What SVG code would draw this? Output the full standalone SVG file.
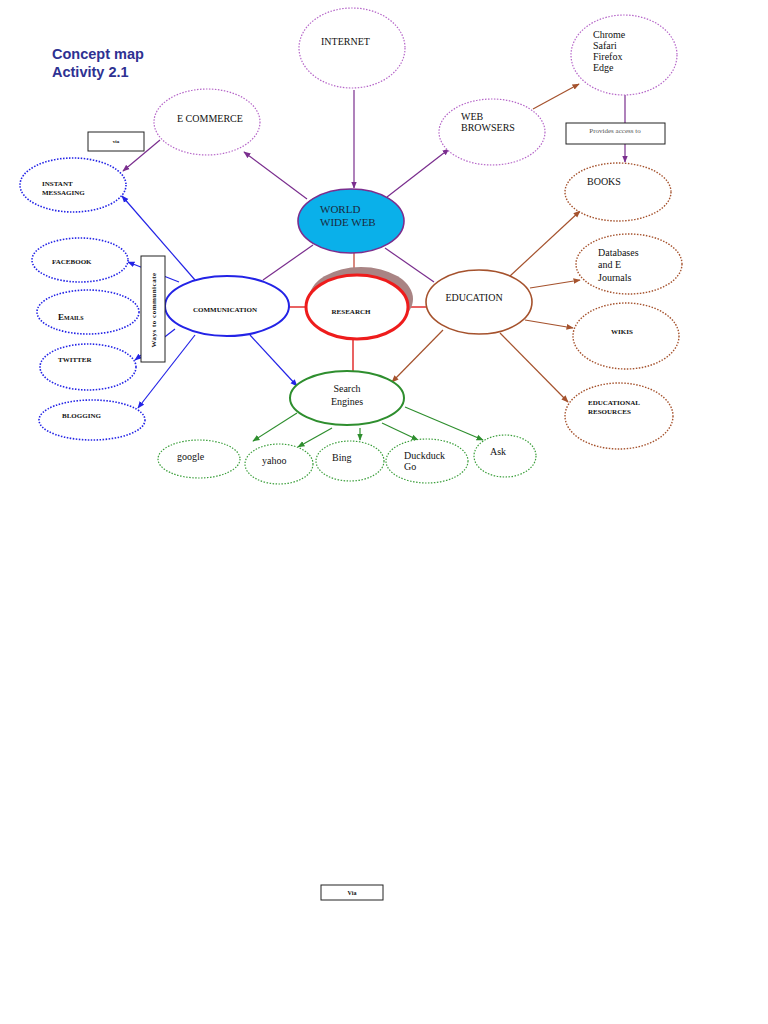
<svg xmlns="http://www.w3.org/2000/svg" width="768" height="1024" viewBox="0 0 768 1024">
<style>
text{font-family:"Liberation Serif","Times New Roman",serif;fill:#111}
.t{font-size:10px}
.s{font-size:7px;font-weight:bold}
.title{font-family:"Liberation Sans",Arial,sans-serif;font-weight:bold;font-size:14.5px;fill:#2e3192}
.pd{fill:#fff;stroke:#b565c8;stroke-width:1.2;stroke-dasharray:1.5 1.5}
.bd{fill:#fff;stroke:#a5522d;stroke-width:1.4;stroke-dasharray:1.5 1.5}
.ud{fill:#fff;stroke:#2323e6;stroke-width:1.6;stroke-dasharray:1.5 1.5}
.gd{fill:#fff;stroke:#3a9e3a;stroke-width:1.2;stroke-dasharray:1.5 1.5}
.box{fill:#fff;stroke:#222;stroke-width:1}
.lp{stroke:#7a2e8e;stroke-width:1.2;fill:none}
.lb{stroke:#a5522d;stroke-width:1.2;fill:none}
.lu{stroke:#2323e6;stroke-width:1.2;fill:none}
.lg{stroke:#2e8e2e;stroke-width:1.2;fill:none}
.lr{stroke:#e02020;stroke-width:1.4;fill:none}
</style>
<defs>
<marker id="ap" viewBox="0 0 10 10" refX="9" refY="5" markerWidth="6" markerHeight="6" orient="auto"><path d="M0,1 L10,5 L0,9 z" fill="#7a2e8e"/></marker>
<marker id="ab" viewBox="0 0 10 10" refX="9" refY="5" markerWidth="6" markerHeight="6" orient="auto"><path d="M0,1 L10,5 L0,9 z" fill="#a5522d"/></marker>
<marker id="au" viewBox="0 0 10 10" refX="9" refY="5" markerWidth="6" markerHeight="6" orient="auto"><path d="M0,1 L10,5 L0,9 z" fill="#2323e6"/></marker>
<marker id="ag" viewBox="0 0 10 10" refX="9" refY="5" markerWidth="6" markerHeight="6" orient="auto"><path d="M0,1 L10,5 L0,9 z" fill="#2e8e2e"/></marker>
</defs>

<g id="title">
<text class="title" x="52" y="59">Concept map</text>
<text class="title" x="52" y="77">Activity 2.1</text>
</g>

<g id="connectors">
<line class="lp" x1="354" y1="90" x2="354" y2="188" marker-end="url(#ap)"/>
<line class="lp" x1="307" y1="199" x2="244" y2="152" marker-end="url(#ap)"/>
<line class="lp" x1="387" y1="197" x2="449" y2="149" marker-end="url(#ap)"/>
<line class="lb" x1="533" y1="109" x2="579" y2="84" marker-end="url(#ab)"/>
<line class="lp" x1="625" y1="95" x2="625" y2="123"/>
<line class="lp" x1="625" y1="144" x2="625" y2="162" marker-end="url(#ap)"/>
<line class="lp" x1="160" y1="140" x2="123" y2="171" marker-end="url(#ap)"/>
<line class="lp" x1="313" y1="245" x2="263" y2="280"/>
<line class="lp" x1="385" y1="248" x2="434" y2="282"/>
<line x1="354" y1="253" x2="354" y2="276" stroke="#c0392b" stroke-width="1.2"/>
<line class="lr" x1="289" y1="307" x2="305" y2="307"/>
<line class="lr" x1="409" y1="307" x2="426" y2="307"/>
<line class="lr" x1="353" y1="339" x2="353" y2="371"/>
<line class="lu" x1="195" y1="280" x2="122" y2="196" marker-end="url(#au)"/>
<line class="lu" x1="179" y1="282" x2="128" y2="262" marker-end="url(#au)"/>
<line class="lu" x1="175" y1="329" x2="135" y2="360" marker-end="url(#au)"/>
<line class="lu" x1="195" y1="335" x2="138" y2="408" marker-end="url(#au)"/>
<line class="lu" x1="250" y1="335" x2="297" y2="386" marker-end="url(#au)"/>
<line class="lb" x1="443" y1="330" x2="392" y2="382" marker-end="url(#ab)"/>
<line class="lb" x1="510" y1="276" x2="580" y2="211" marker-end="url(#ab)"/>
<line class="lb" x1="530" y1="288" x2="580" y2="280" marker-end="url(#ab)"/>
<line class="lb" x1="525" y1="320" x2="573" y2="328" marker-end="url(#ab)"/>
<line class="lb" x1="500" y1="333" x2="568" y2="402" marker-end="url(#ab)"/>
<line class="lg" x1="297" y1="413" x2="253" y2="441" marker-end="url(#ag)"/>
<line class="lg" x1="332" y1="428" x2="298" y2="447" marker-end="url(#ag)"/>
<line class="lg" x1="360" y1="428" x2="360" y2="440" marker-end="url(#ag)"/>
<line class="lg" x1="382" y1="423" x2="418" y2="440" marker-end="url(#ag)"/>
<line class="lg" x1="405" y1="407" x2="483" y2="440" marker-end="url(#ag)"/>
</g>

<g id="internet"><ellipse class="pd" cx="352" cy="48" rx="53" ry="40"/><text class="t" x="321" y="45" font-size="10.5">INTERNET</text></g>
<g id="ecommerce"><ellipse class="pd" cx="207" cy="122" rx="53" ry="33"/><text class="t" x="177" y="122" font-size="9.5">E COMMERCE</text></g>
<g id="webbrowsers"><ellipse class="pd" cx="492" cy="132" rx="53" ry="33"/><text class="t" x="461" y="120">WEB</text><text class="t" x="461" y="131">BROWSERS</text></g>
<g id="browsers"><ellipse class="pd" cx="624" cy="55" rx="53" ry="40"/>
<text class="t" x="593" y="38" font-size="9">Chrome</text><text class="t" x="593" y="49" font-size="9">Safari</text><text class="t" x="593" y="60" font-size="9">Firefox</text><text class="t" x="593" y="71" font-size="9">Edge</text></g>
<g id="provides"><rect class="box" x="566" y="123" width="99" height="21"/><text x="615" y="133" font-size="7" text-anchor="middle" style="fill:#555">Provides access to</text></g>

<g id="via1"><rect class="box" x="88" y="132" width="56" height="19"/><text x="116" y="143" font-size="5" font-weight="bold" text-anchor="middle">via</text></g>
<g id="via2"><rect class="box" x="321" y="885" width="62" height="15"/><text x="352" y="895" font-size="6" font-weight="bold" text-anchor="middle">Via</text></g>

<g id="www"><ellipse cx="351" cy="221" rx="53" ry="32" fill="#0ab0ea" stroke="#7a2e8e" stroke-width="1.6"/><text x="320" y="213" font-size="11" style="fill:#1a2a40">WORLD</text><text x="320" y="226" font-size="11" style="fill:#1a2a40">WIDE WEB</text></g>

<g id="research"><ellipse cx="361" cy="299" rx="52" ry="32" fill="#a98484"/><ellipse cx="357" cy="307" rx="51" ry="32" fill="#fff" stroke="#ee1c1c" stroke-width="3"/><text class="s" x="351" y="314" text-anchor="middle">RESEARCH</text></g>

<g id="education"><ellipse cx="479" cy="302" rx="53" ry="32" fill="#fff" stroke="#a5522d" stroke-width="1.6"/><text class="t" x="474" y="301" text-anchor="middle">EDUCATION</text></g>
<g id="communication"><ellipse cx="227" cy="306" rx="62" ry="30" fill="#fff" stroke="#2323e6" stroke-width="2"/><text class="s" x="225" y="312" text-anchor="middle">COMMUNICATION</text></g>
<g id="search"><ellipse cx="347" cy="398" rx="57" ry="27" fill="#fff" stroke="#2e8e2e" stroke-width="2"/><text class="t" x="347" y="392" text-anchor="middle">Search</text><text class="t" x="347" y="405" text-anchor="middle">Engines</text></g>

<g id="books"><ellipse class="bd" cx="618" cy="192" rx="53" ry="29"/><text class="t" x="587" y="185">BOOKS</text></g>
<g id="databases"><ellipse class="bd" cx="629" cy="264" rx="53" ry="30"/><text class="t" x="598" y="256">Databases</text><text class="t" x="598" y="268">and E</text><text class="t" x="598" y="281">Journals</text></g>
<g id="wikis"><ellipse class="bd" cx="626" cy="336" rx="53" ry="33"/><text class="s" x="622" y="334" text-anchor="middle">WIKIS</text></g>
<g id="eduresources"><ellipse class="bd" cx="619" cy="416" rx="54" ry="33"/><text class="s" x="588" y="405">EDUCATIONAL</text><text class="s" x="588" y="414">RESOURCES</text></g>

<g id="instant"><ellipse class="ud" cx="73" cy="185" rx="53" ry="27"/><text class="s" x="42" y="186">INSTANT</text><text class="s" x="42" y="195">MESSAGING</text></g>
<g id="facebook"><ellipse class="ud" cx="80" cy="260" rx="48" ry="22"/><text class="s" x="52" y="264">FACEBOOK</text></g>
<g id="emails"><ellipse class="ud" cx="88" cy="312" rx="51" ry="22"/><text x="58" y="320" font-size="9" font-weight="bold" font-variant="small-caps">Emails</text></g>
<g id="twitter"><ellipse class="ud" cx="88" cy="367" rx="48" ry="23"/><text class="s" x="58" y="362">TWITTER</text></g>
<g id="blogging"><ellipse class="ud" cx="92" cy="420" rx="53" ry="20"/><text class="s" x="62" y="418">BLOGGING</text></g>
<g id="ways"><rect class="box" x="141" y="256" width="24" height="106"/><text class="s" transform="translate(156,310) rotate(-90)" text-anchor="middle" font-size="7" letter-spacing="0.5">Ways to communicate</text></g>

<g id="google"><ellipse class="gd" cx="199" cy="459" rx="41" ry="19"/><text class="t" x="177" y="460">google</text></g>
<g id="yahoo"><ellipse class="gd" cx="279" cy="464" rx="34" ry="20"/><text class="t" x="262" y="464">yahoo</text></g>
<g id="bing"><ellipse class="gd" cx="350" cy="461" rx="34" ry="20"/><text class="t" x="332" y="461">Bing</text></g>
<g id="duckduck"><ellipse class="gd" cx="427" cy="461" rx="41" ry="22"/><text class="t" x="404" y="459" font-size="9">Duckduck</text><text class="t" x="404" y="470" font-size="9">Go</text></g>
<g id="ask"><ellipse class="gd" cx="505" cy="456" rx="31" ry="21"/><text class="t" x="490" y="455">Ask</text></g>
</svg>
